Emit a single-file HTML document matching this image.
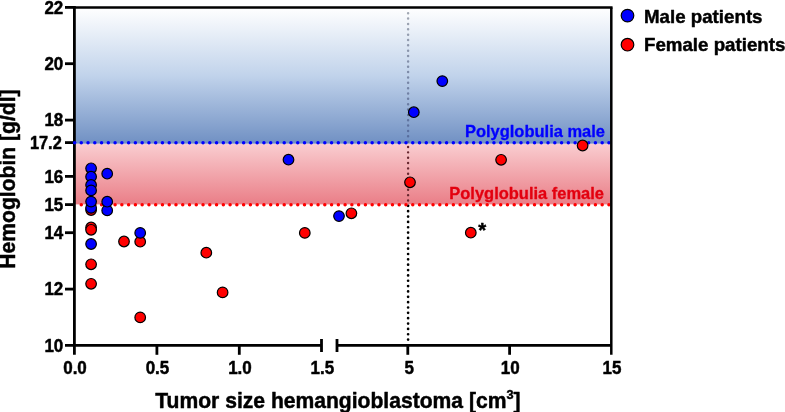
<!DOCTYPE html>
<html lang="en"><head><meta charset="utf-8"><title>Hemoglobin vs tumor size</title>
<style>html,body{margin:0;padding:0;background:#fff;overflow:hidden;}svg{display:block;}text{font-family:"Liberation Sans",Arial,Helvetica,sans-serif;font-weight:bold;fill:#000;stroke:#000;stroke-width:0.45px;stroke-linejoin:round;}</style></head><body>
<svg width="785" height="412" viewBox="0 0 785 412">
<defs><linearGradient id="gb" x1="0" y1="0" x2="0" y2="1"><stop offset="0" stop-color="#ffffff"/><stop offset="0.5" stop-color="#c1d3eb"/><stop offset="1" stop-color="#7090c3"/></linearGradient>
<linearGradient id="gr" x1="0" y1="0" x2="0" y2="1"><stop offset="0" stop-color="#f9cdd0"/><stop offset="1" stop-color="#ea7e87"/></linearGradient><linearGradient id="gv" gradientUnits="userSpaceOnUse" x1="0" y1="12" x2="0" y2="142"><stop offset="0" stop-color="#a2a8b3"/><stop offset="1" stop-color="#546a9c"/></linearGradient></defs>
<rect width="785" height="412" fill="#fff"/>
<rect x="74.4" y="7.4" width="536.9" height="136.4" fill="url(#gb)"/>
<rect x="74.4" y="143.8" width="536.9" height="60.6" fill="url(#gr)"/>
<path d="M408.1 141.65 V12.75" fill="none" stroke="url(#gv)" stroke-width="2.5" stroke-linecap="round" stroke-dasharray="0 5.35"/>
<path d="M408.1 200.50 V146.50" fill="none" stroke="#67272f" stroke-width="2.4" stroke-linecap="round" stroke-dasharray="0 5.35"/>
<path d="M408.1 339.60 V205.35" fill="none" stroke="#000" stroke-width="2.7" stroke-linecap="round" stroke-dasharray="0 5.35"/>
<line x1="74.5" y1="142.8" x2="611" y2="142.8" stroke="#0000ff" stroke-width="3.5" stroke-linecap="round" stroke-dasharray="0 6.765"/>
<line x1="81.27" y1="204.8" x2="611" y2="204.8" stroke="#ff0000" stroke-width="3.5" stroke-linecap="round" stroke-dasharray="0 6.765"/>
<g stroke="#000" stroke-width="2.8" fill="none" stroke-linecap="butt">
<path d="M74.4 354.8 V6.1"/>
<path d="M73.0 7.4 H612.55" stroke-width="2.5"/>
<path d="M611.3 7.4 V354.8" stroke-width="2.5"/>
<path d="M65 345.4 H322 M336.5 345.4 H611.3"/>
<path d="M321.5 339.1 V351.9 M337.0 339.1 V351.9" stroke-width="2.8"/>
<path d="M156.9 345.4 V354.8"/>
<path d="M239.3 345.4 V354.8"/>
<path d="M407.8 345.4 V354.8"/>
<path d="M509.6 345.4 V354.8"/>
<path d="M65 7.4 H74.4"/>
<path d="M65 63.7 H74.4"/>
<path d="M65 120.1 H74.4"/>
<path d="M65 142.6 H74.4"/>
<path d="M65 176.4 H74.4"/>
<path d="M65 204.6 H74.4"/>
<path d="M65 232.7 H74.4"/>
<path d="M65 289.1 H74.4"/>
</g>
<circle cx="74.6" cy="142.8" r="1.75" fill="#0000ff"/>
<text transform="translate(63.30 13.60) scale(1.0 1.1)" font-size="17" text-anchor="end">22</text>
<text transform="translate(63.30 69.93) scale(1.0 1.1)" font-size="17" text-anchor="end">20</text>
<text transform="translate(63.30 126.27) scale(1.0 1.1)" font-size="17" text-anchor="end">18</text>
<text transform="translate(61.80 148.80) scale(0.965 1.1)" font-size="17" text-anchor="end">17.2</text>
<text transform="translate(63.30 182.60) scale(1.0 1.1)" font-size="17" text-anchor="end">16</text>
<text transform="translate(63.30 210.77) scale(1.0 1.1)" font-size="17" text-anchor="end">15</text>
<text transform="translate(63.30 238.93) scale(1.0 1.1)" font-size="17" text-anchor="end">14</text>
<text transform="translate(63.30 295.27) scale(1.0 1.1)" font-size="17" text-anchor="end">12</text>
<text transform="translate(63.30 351.60) scale(1.0 1.1)" font-size="17" text-anchor="end">10</text>
<text transform="translate(75.00 373.60) scale(1.0 1.1)" font-size="17" text-anchor="middle">0.0</text>
<text transform="translate(157.47 373.60) scale(1.0 1.1)" font-size="17" text-anchor="middle">0.5</text>
<text transform="translate(239.93 373.60) scale(1.0 1.1)" font-size="17" text-anchor="middle">1.0</text>
<text transform="translate(322.40 373.60) scale(1.0 1.1)" font-size="17" text-anchor="middle">1.5</text>
<text transform="translate(409.20 373.60) scale(1.0 1.1)" font-size="17" text-anchor="middle">5</text>
<text transform="translate(510.15 373.60) scale(1.0 1.1)" font-size="17" text-anchor="middle">10</text>
<text transform="translate(611.90 373.60) scale(1.0 1.1)" font-size="17" text-anchor="middle">15</text>
<text transform="translate(337.90 407.65) scale(1.0098 1.04)" font-size="20.9" text-anchor="middle">Tumor size hemangioblastoma [cm<tspan font-size="12.6" dy="-8.2">3</tspan><tspan dy="8.2">]</tspan></text>
<text transform="translate(15.40 179.10) rotate(-90) scale(1.02 1.05)" font-size="20.7" text-anchor="middle">Hemoglobin [g/dl]</text>
<text transform="translate(605.00 136.80) scale(1.012 1.0)" font-size="16.3" text-anchor="end" style="fill:#0000ff;stroke:#0000ff;stroke-width:0.3px">Polyglobulia male</text>
<text transform="translate(604.00 199.20) scale(1.012 1.0)" font-size="16.3" text-anchor="end" style="fill:#e3000f;stroke:#e3000f;stroke-width:0.3px">Polyglobulia female</text>
<g stroke="#000" stroke-width="1.2">
<circle cx="91.1" cy="210.0" r="5.3" fill="#ff0000"/>
<circle cx="91.1" cy="227.5" r="5.3" fill="#ff0000"/>
<circle cx="91.1" cy="229.8" r="5.3" fill="#ff0000"/>
<circle cx="91.1" cy="264.3" r="5.3" fill="#ff0000"/>
<circle cx="91.1" cy="283.8" r="5.3" fill="#ff0000"/>
<circle cx="124.0" cy="241.5" r="5.3" fill="#ff0000"/>
<circle cx="140.2" cy="241.7" r="5.3" fill="#ff0000"/>
<circle cx="140.2" cy="317.4" r="5.3" fill="#ff0000"/>
<circle cx="206.3" cy="252.7" r="5.3" fill="#ff0000"/>
<circle cx="222.6" cy="292.4" r="5.3" fill="#ff0000"/>
<circle cx="304.8" cy="232.9" r="5.3" fill="#ff0000"/>
<circle cx="351.4" cy="213.3" r="5.3" fill="#ff0000"/>
<circle cx="410" cy="182.3" r="5.3" fill="#ff0000"/>
<circle cx="470.8" cy="232.7" r="5.3" fill="#ff0000"/>
<circle cx="501.1" cy="159.8" r="5.3" fill="#ff0000"/>
<circle cx="582.6" cy="145.5" r="5.3" fill="#ff0000"/>
<circle cx="91.1" cy="168.3" r="5.3" fill="#0000ff"/>
<circle cx="91.1" cy="176.7" r="5.3" fill="#0000ff"/>
<circle cx="91.1" cy="185.0" r="5.3" fill="#0000ff"/>
<circle cx="91.1" cy="190.4" r="5.3" fill="#0000ff"/>
<circle cx="91.1" cy="207.9" r="5.3" fill="#0000ff"/>
<circle cx="91.1" cy="201.6" r="5.3" fill="#0000ff"/>
<circle cx="91.1" cy="244.0" r="5.3" fill="#0000ff"/>
<circle cx="107.2" cy="173.7" r="5.3" fill="#0000ff"/>
<circle cx="107.2" cy="210.4" r="5.3" fill="#0000ff"/>
<circle cx="107.2" cy="201.7" r="5.3" fill="#0000ff"/>
<circle cx="140.2" cy="232.9" r="5.3" fill="#0000ff"/>
<circle cx="288.5" cy="159.7" r="5.3" fill="#0000ff"/>
<circle cx="339.0" cy="216.1" r="5.3" fill="#0000ff"/>
<circle cx="413.8" cy="112.2" r="5.3" fill="#0000ff"/>
<circle cx="442.3" cy="81.1" r="5.3" fill="#0000ff"/>
<circle cx="627.5" cy="15.6" r="6.3" fill="#0000ff" stroke-width="1.2"/>
<circle cx="627.5" cy="44.7" r="6.3" fill="#ff0000" stroke-width="1.2"/>
</g>
<text transform="translate(644.00 22.90) scale(1.012 1.03)" font-size="18.5" text-anchor="start">Male patients</text>
<text transform="translate(644.00 50.90) scale(1.012 1.03)" font-size="18.5" text-anchor="start">Female patients</text>
<text transform="translate(478.30 237.30) scale(1.0 1.0)" font-size="20.4" text-anchor="start">*</text>
</svg></body></html>
